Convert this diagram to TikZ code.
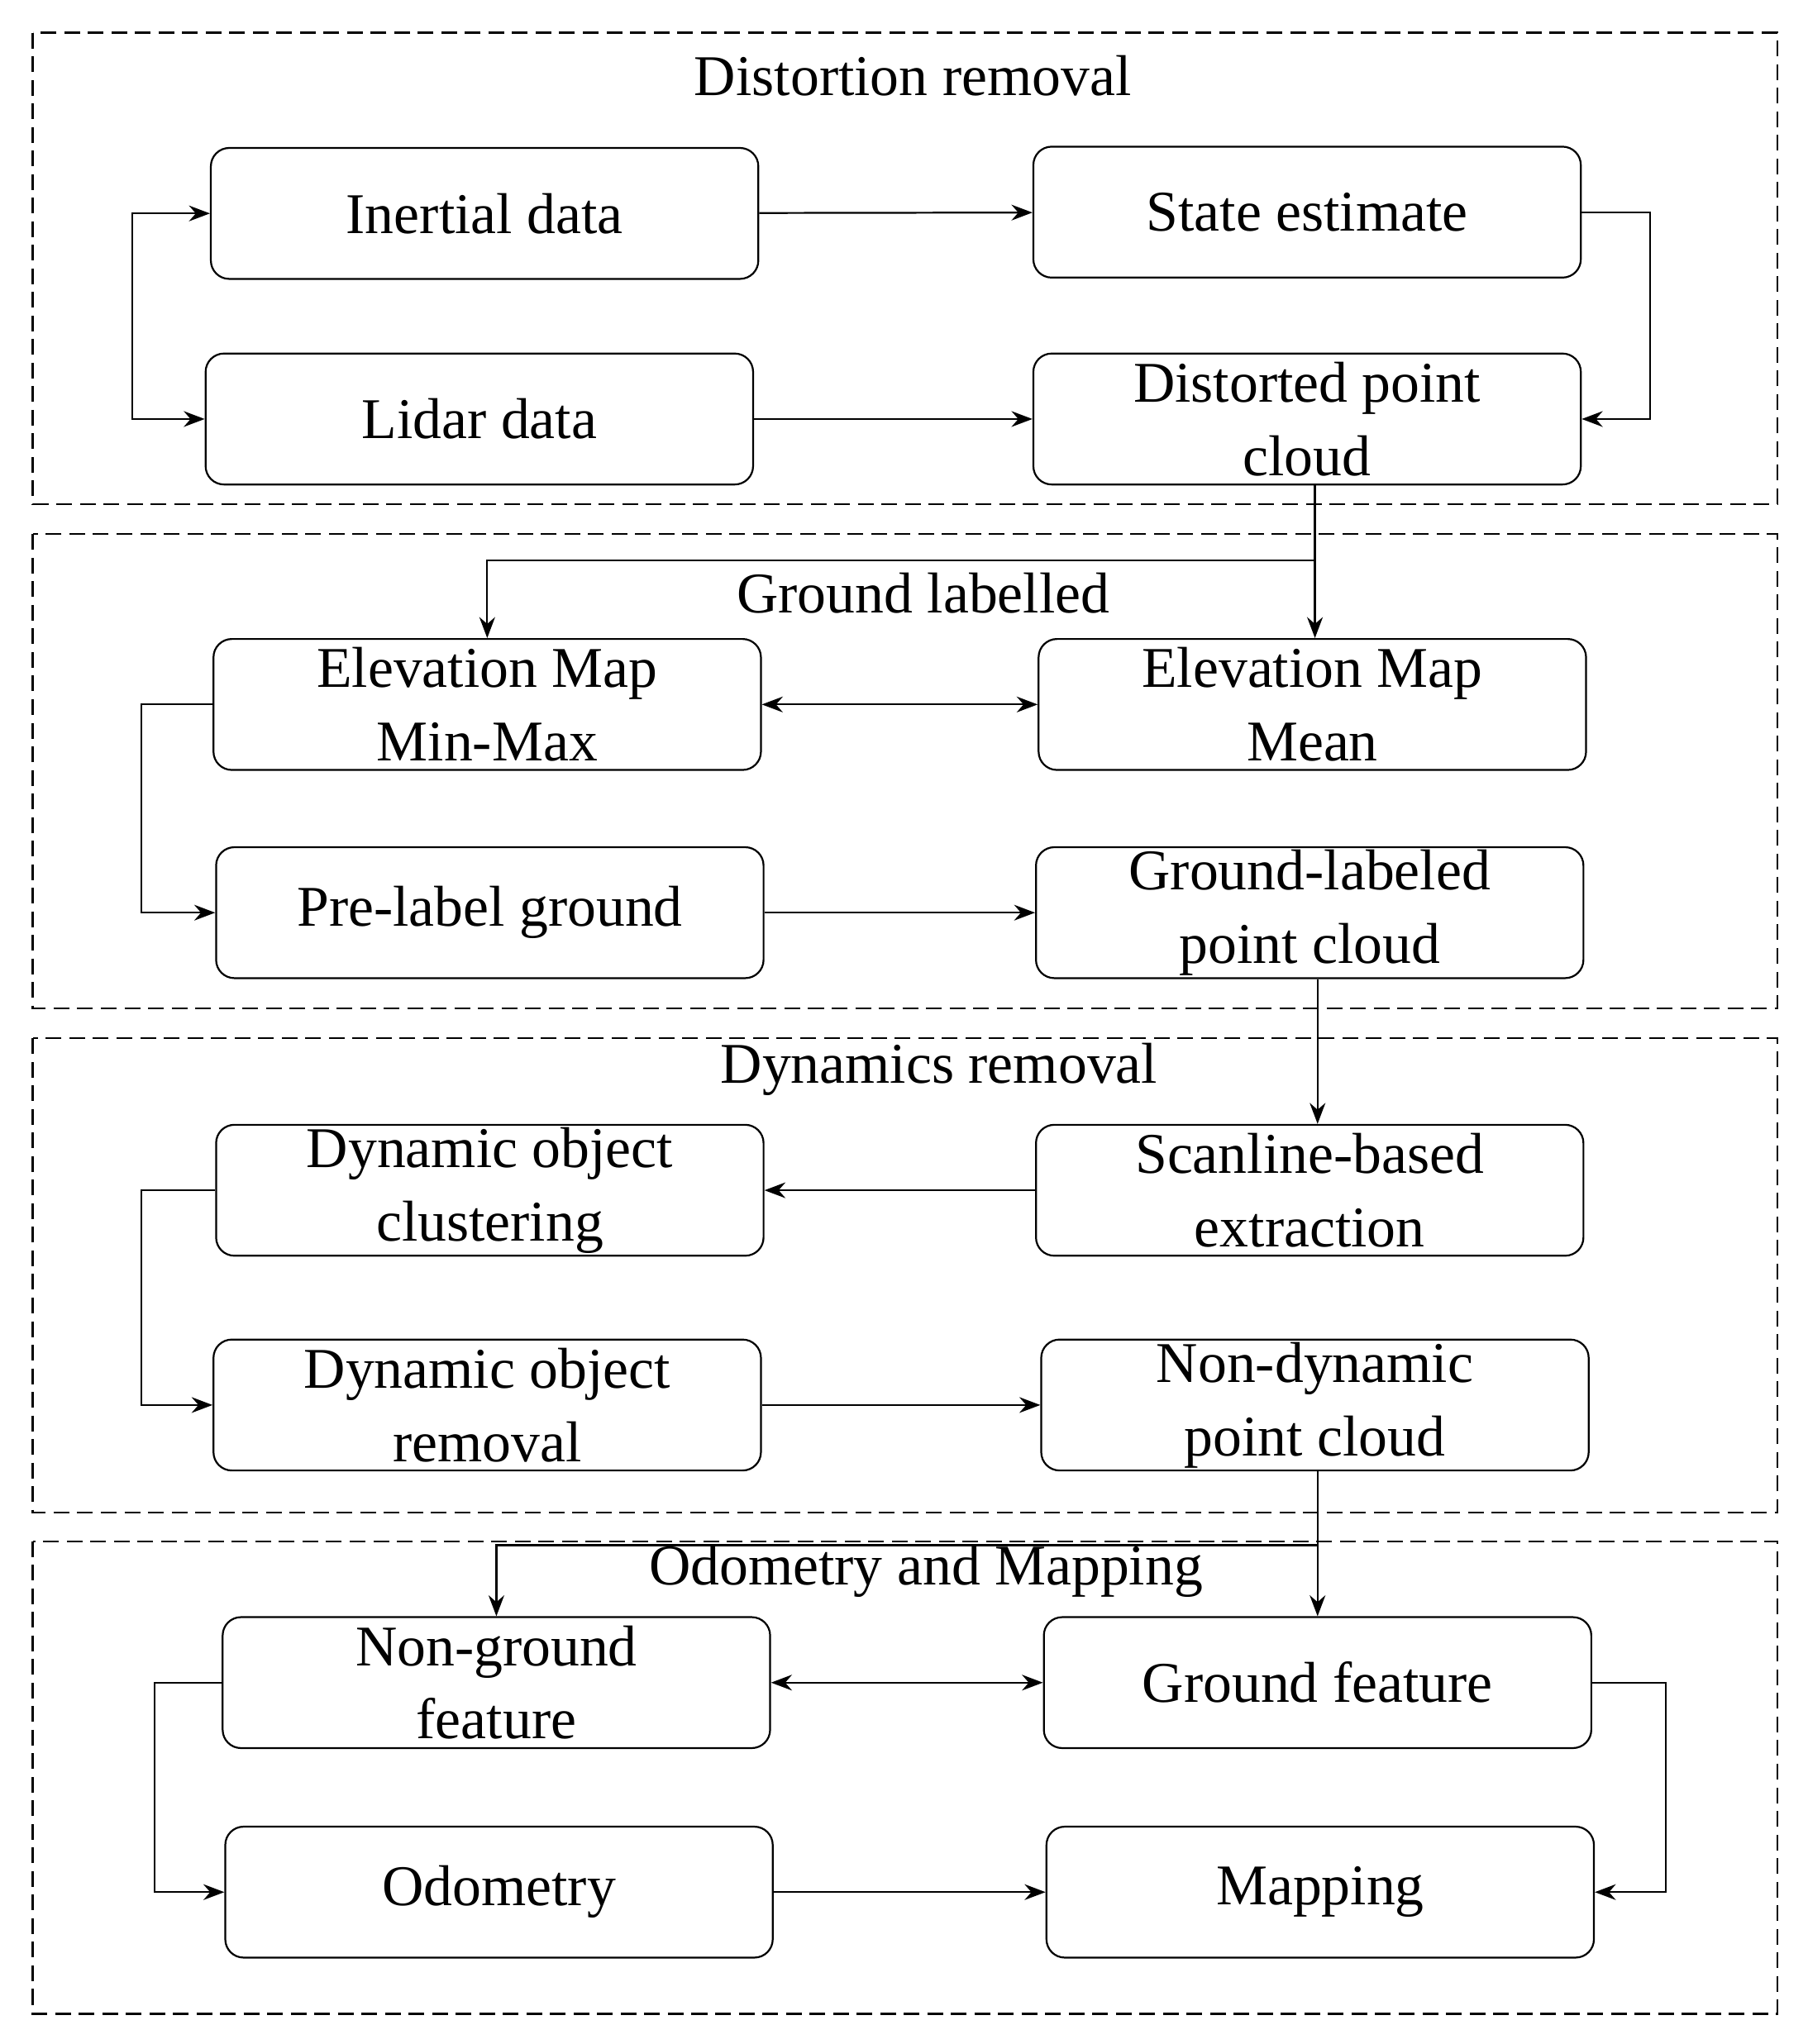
\documentclass[tikz,border=0pt]{standalone}
\usepackage{fontspec}
\setmainfont{Liberation Serif}
\usetikzlibrary{arrows.meta}
\begin{document}
\begin{tikzpicture}[x=0.5pt,y=-0.5pt,
  box/.style={draw,rounded corners=7pt,minimum width=209pt,minimum height=50pt,align=center,inner sep=0pt,font=\fontsize{22}{28}\selectfont,line width=0.7pt},
  frame/.style={draw,dashed,line width=0.7pt,dash pattern=on 6pt off 3pt},
  ttl/.style={font=\fontsize{22}{28}\selectfont},
  arr/.style={-{Stealth[length=8pt,width=6pt]},line width=0.7pt},
  darr/.style={{Stealth[length=8pt,width=6pt]}-{Stealth[length=8pt,width=6pt]},line width=0.7pt}]
\useasboundingbox (0,0) rectangle (1380,1561);
\draw[frame] (25,25) rectangle (1357,385);
\draw[frame] (25,408) rectangle (1357,770);
\draw[frame] (25,793) rectangle (1357,1155);
\draw[frame] (25,1177) rectangle (1357,1538);
\node[ttl] (t1) at (697,58) {Distortion removal};
\node[ttl] (t2) at (705,453) {Ground labelled};
\node[ttl] (t3) at (717,817) {Dynamics removal};
\node[ttl] (t4) at (707,1200) {Odometry and Mapping};

\node[box] (in) at (370,163) {Inertial data};
\node[box] (st) at (998,162) {State estimate};
\node[box] (li) at (366,320) {Lidar data};
\node[box] (di) at (998,320) {Distorted point\\cloud};
\node[box] (em) at (372,538) {Elevation Map\\Min-Max};
\node[box] (me) at (1002,538) {Elevation Map\\Mean};
\node[box] (pl) at (374,697) {Pre-label ground};
\node[box] (gl) at (1000,697) {Ground-labeled\\point cloud};
\node[box] (dc) at (374,909) {Dynamic object\\clustering};
\node[box] (sc) at (1000,909) {Scanline-based\\extraction};
\node[box] (dr) at (372,1073) {Dynamic object\\removal};
\node[box] (nd) at (1004,1073) {Non-dynamic\\point cloud};
\node[box] (ng) at (379,1285) {Non-ground\\feature};
\node[box] (gf) at (1006,1285) {Ground feature};
\node[box] (od) at (381,1445) {Odometry};
\node[box] (mp) at (1008,1445) {Mapping};

\coordinate (a1) at (101,163);
\coordinate (a2) at (101,320);
\draw[darr] (in.west) -- (a1) -- (a2) -- (li.west);
\draw[arr] (in) -- (st);
\draw[arr] (li) -- (di);
\draw[arr] (st.east) -- (1260,162) -- (1260,320) -- (di.east);
\draw[arr] (di.south -| 1004,0) -- (me.north -| 1004,0);
\draw[arr] (1004,428) -- (372,428) -- (em.north);
\draw[darr] (em) -- (me);
\draw[arr] (em.west) -- (108,538) -- (108,697) -- (pl.west);
\draw[arr] (pl) -- (gl);
\draw[arr] (gl.south -| 1006,0) -- (sc.north -| 1006,0);
\draw[arr] (sc) -- (dc);
\draw[arr] (dc.west) -- (108,909) -- (108,1073) -- (dr.west);
\draw[arr] (dr) -- (nd);
\draw[arr] (nd.south -| 1006,0) -- (gf.north -| 1006,0);
\draw[arr] (1006,1180) -- (379,1180) -- (ng.north);
\draw[darr] (ng) -- (gf);
\draw[arr] (ng.west) -- (118,1285) -- (118,1445) -- (od.west);
\draw[arr] (od) -- (mp);
\draw[arr] (gf.east) -- (1272,1285) -- (1272,1445) -- (mp.east);
\end{tikzpicture}
\end{document}
